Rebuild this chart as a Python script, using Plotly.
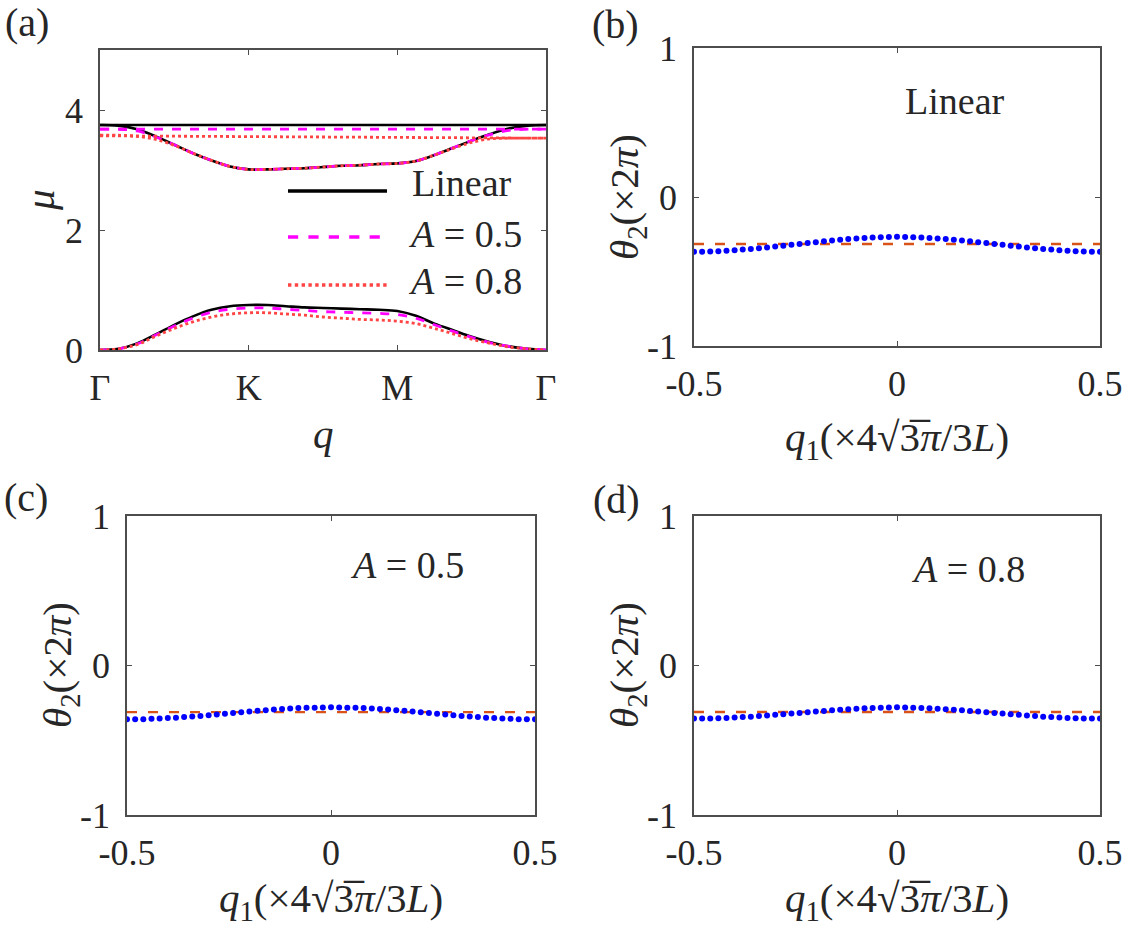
import plotly.graph_objects as go

W, H = 1125, 926

# ---------------- data ----------------
q_band = [0.0, 0.125, 0.25, 0.375, 0.5, 0.625, 0.75, 0.875, 1.0, 1.125, 1.25, 1.375, 1.5,
          1.625, 1.75, 1.875, 2.0, 2.125, 2.25, 2.375, 2.5, 2.625, 2.75, 2.875, 3.0]
q_ticks = [0, 1, 2, 3]
q_ticklabels = ["Γ", "K", "M", "Γ"]
q_flat = [0.0, 3.0]

lin_flat = [3.75, 3.75]
lin_upper = [3.75, 3.74, 3.68, 3.56, 3.42, 3.28, 3.16, 3.06, 3.01, 3.01, 3.02, 3.03, 3.05,
             3.07, 3.08, 3.10, 3.11, 3.15, 3.25, 3.37, 3.49, 3.60, 3.69, 3.74, 3.75]
lin_lower = [0.0, 0.02, 0.11, 0.26, 0.42, 0.56, 0.67, 0.73, 0.75, 0.75, 0.73, 0.71, 0.70,
             0.69, 0.68, 0.67, 0.65, 0.57, 0.44, 0.33, 0.22, 0.13, 0.06, 0.02, 0.0]

a05_flat = [3.68, 3.68]
a05_upper = [3.68, 3.68, 3.65, 3.55, 3.42, 3.28, 3.16, 3.06, 3.01, 3.01, 3.02, 3.03, 3.05,
             3.07, 3.08, 3.10, 3.11, 3.15, 3.25, 3.37, 3.49, 3.59, 3.66, 3.68, 3.68]
a05_lower = [0.0, 0.02, 0.10, 0.25, 0.40, 0.53, 0.63, 0.68, 0.70, 0.70, 0.68, 0.66, 0.64,
             0.63, 0.62, 0.61, 0.59, 0.53, 0.42, 0.31, 0.21, 0.12, 0.06, 0.02, 0.0]

a08_flat = [3.57, 3.53]
a08_upper = [3.58, 3.58, 3.56, 3.51, 3.41, 3.28, 3.16, 3.06, 3.01, 3.01, 3.02, 3.03, 3.05,
             3.07, 3.08, 3.10, 3.11, 3.15, 3.25, 3.36, 3.46, 3.52, 3.53, 3.53, 3.53]
a08_lower = [0.0, 0.02, 0.09, 0.23, 0.36, 0.47, 0.55, 0.60, 0.62, 0.62, 0.60, 0.58, 0.55,
             0.53, 0.51, 0.50, 0.48, 0.44, 0.36, 0.27, 0.18, 0.11, 0.05, 0.02, 0.0]

q1 = [-0.50, -0.48, -0.46, -0.44, -0.42, -0.40, -0.38, -0.36, -0.34, -0.32, -0.30, -0.28, -0.26,
      -0.24, -0.22, -0.20, -0.18, -0.16, -0.14, -0.12, -0.10, -0.08, -0.06, -0.04, -0.02, 0.00,
      0.02, 0.04, 0.06, 0.08, 0.10, 0.12, 0.14, 0.16, 0.18, 0.20, 0.22, 0.24, 0.26, 0.28, 0.30,
      0.32, 0.34, 0.36, 0.38, 0.40, 0.42, 0.44, 0.46, 0.48, 0.50]

theta_lin = [-0.367, -0.367, -0.366, -0.364, -0.361, -0.357, -0.353, -0.349, -0.344, -0.339,
             -0.333, -0.327, -0.321, -0.315, -0.309, -0.303, -0.297, -0.292, -0.287, -0.282,
             -0.278, -0.275, -0.272, -0.270, -0.268, -0.267, -0.268, -0.270, -0.272, -0.275,
             -0.278, -0.282, -0.287, -0.292, -0.297, -0.303, -0.309, -0.315, -0.321, -0.327,
             -0.333, -0.339, -0.344, -0.349, -0.353, -0.357, -0.361, -0.364, -0.366, -0.367, -0.367]
theta_a05 = [-0.360, -0.360, -0.359, -0.357, -0.355, -0.352, -0.349, -0.345, -0.341, -0.337,
             -0.332, -0.327, -0.322, -0.318, -0.313, -0.308, -0.303, -0.299, -0.295, -0.291,
             -0.288, -0.285, -0.283, -0.282, -0.281, -0.280, -0.281, -0.282, -0.283, -0.285,
             -0.288, -0.291, -0.295, -0.299, -0.303, -0.308, -0.313, -0.318, -0.322, -0.327,
             -0.332, -0.337, -0.341, -0.345, -0.349, -0.352, -0.355, -0.357, -0.359, -0.360, -0.360]
theta_a08 = [-0.355, -0.355, -0.354, -0.353, -0.351, -0.348, -0.345, -0.342, -0.338, -0.334,
             -0.330, -0.326, -0.321, -0.317, -0.313, -0.308, -0.304, -0.300, -0.296, -0.292,
             -0.289, -0.286, -0.284, -0.282, -0.281, -0.280, -0.281, -0.282, -0.284, -0.286,
             -0.289, -0.292, -0.296, -0.300, -0.304, -0.308, -0.313, -0.317, -0.321, -0.326,
             -0.330, -0.334, -0.338, -0.342, -0.345, -0.348, -0.351, -0.353, -0.354, -0.355, -0.355]
q1_ref = [-0.5, 0.5]
ref_lin = [-0.315, -0.315]
ref_a05 = [-0.312, -0.312]
ref_a08 = [-0.311, -0.311]

# ---------------- styling ----------------
FONT = "Liberation Serif"
TXT = "#262626"
AX = "#4d4d4d"
FS_TICK = 36
FS_TXT = 38
FS_TITLE = 41
BLACK, MAGENTA, RED = "#000000", "#FF00FF", "#FF4444"
BLUE, ORANGE = "#0000FF", "#D95319"


def px(x):
    return x / W


def py(y):
    return 1 - y / H


fig = go.Figure()

# panel (a)
band_sets = [
    (lin_flat, lin_upper, lin_lower, BLACK, "solid", 2.6),
    (a05_flat, a05_upper, a05_lower, MAGENTA, "dash", 2.8),
    (a08_flat, a08_upper, a08_lower, RED, "dot", 2.8),
]
for flat, upper, lower, col, dash, w in band_sets:
    fig.add_trace(go.Scatter(x=q_flat, y=flat, mode="lines", xaxis="x", yaxis="y",
                             line=dict(color=col, dash=dash, width=w), showlegend=False))
    fig.add_trace(go.Scatter(x=q_band, y=upper, mode="lines", xaxis="x", yaxis="y",
                             line=dict(color=col, dash=dash, width=w, shape="spline"),
                             showlegend=False))
    fig.add_trace(go.Scatter(x=q_band, y=lower, mode="lines", xaxis="x", yaxis="y",
                             line=dict(color=col, dash=dash, width=w, shape="spline"),
                             showlegend=False))

# panels (b), (c), (d)
for theta, ref, xa, ya in [(theta_lin, ref_lin, "x2", "y2"),
                           (theta_a05, ref_a05, "x3", "y3"),
                           (theta_a08, ref_a08, "x4", "y4")]:
    fig.add_trace(go.Scatter(x=q1_ref, y=ref, mode="lines", xaxis=xa, yaxis=ya,
                             line=dict(color=ORANGE, width=2.4, dash="10px,11px"),
                             showlegend=False))
    fig.add_trace(go.Scatter(x=q1, y=theta, mode="markers", xaxis=xa, yaxis=ya,
                             marker=dict(color=BLUE, size=6, line=dict(width=0)),
                             showlegend=False))

common = dict(showline=True, linecolor=AX, linewidth=1.8, mirror="ticks", ticks="inside",
              ticklen=5, tickcolor=AX, tickwidth=1.4, showgrid=False, zeroline=False,
              automargin=False, tickfont=dict(family=FONT, size=FS_TICK, color=TXT))

dom = {
    "a": ([px(100), px(546)], [py(350), py(50)]),
    "b": ([px(694), px(1100)], [py(346), py(48)]),
    "c": ([px(127), px(535)], [py(815), py(516)]),
    "d": ([px(694), px(1100)], [py(815), py(516)]),
}

fig.update_layout(
    width=W, height=H, margin=dict(l=0, r=0, t=0, b=0, autoexpand=False),
    paper_bgcolor="white", plot_bgcolor="white",
    xaxis=dict(domain=dom["a"][0], anchor="y", range=[0, 3], tickvals=q_ticks,
               ticktext=q_ticklabels, ticklabelstandoff=5, **common),
    yaxis=dict(domain=dom["a"][1], anchor="x", range=[0, 5], tickvals=[0, 2, 4],
               ticklabelstandoff=8, **common),
)
for i, key in [(2, "b"), (3, "c"), (4, "d")]:
    fig.update_layout({
        f"xaxis{i}": dict(domain=dom[key][0], anchor=f"y{i}", range=[-0.5, 0.5],
                          tickvals=[-0.5, 0, 0.5], ticktext=["-0.5", "0", "0.5"],
                          ticklabelstandoff=5, **common),
        f"yaxis{i}": dict(domain=dom[key][1], anchor=f"x{i}", range=[-1, 1],
                          tickvals=[-1, 0, 1], ticktext=["-1", "0", "1"],
                          ticklabelstandoff=8, **common),
    })

ann = []


def text(x, y, s, size=FS_TXT, angle=0, xanchor="center"):
    ann.append(dict(x=px(x), y=py(y), xref="paper", yref="paper", text=s, showarrow=False,
                    textangle=angle, xanchor=xanchor, yanchor="middle",
                    font=dict(family=FONT, size=size, color=TXT)))


# panel labels
text(27, 22, "(a)", size=40)
text(615, 24, "(b)", size=40)
text(26, 497, "(c)", size=40)
text(616, 499, "(d)", size=40)

# axis titles
text(40, 200, "<i>μ</i>", size=FS_TITLE, angle=-90)
text(323, 434, "<i>q</i>", size=FS_TITLE)
ytitle = "<i>θ</i><sub>2</sub>(×2<i>π</i>)"
xtitle = "<i>q</i><sub>1</sub>(×4√3\u0305<i>π</i>/3<i>L</i>)"
text(627, 197, ytitle, size=FS_TITLE, angle=-90)
text(60, 665, ytitle, size=FS_TITLE, angle=-90)
text(627, 665, ytitle, size=FS_TITLE, angle=-90)
text(897, 440, xtitle, size=FS_TITLE)
text(331, 901, xtitle, size=FS_TITLE)
text(897, 901, xtitle, size=FS_TITLE)

# in-panel labels
text(955, 101, "Linear")
text(407, 565, "<i>A</i> = 0.5")
text(968, 569, "<i>A</i> = 0.8")

# legend of panel (a)
shapes = []
for yy, col, dash in [(191, BLACK, "solid"), (237, MAGENTA, "dash"), (285, RED, "dot")]:
    shapes.append(dict(type="line", xref="paper", yref="paper", x0=px(288), x1=px(387),
                       y0=py(yy), y1=py(yy), line=dict(color=col, width=3.4, dash=dash)))
text(410, 183, "Linear", xanchor="left")
text(406, 234, "<i>A</i> = 0.5", xanchor="left")
text(406, 281, "<i>A</i> = 0.8", xanchor="left")

fig.update_layout(annotations=ann, shapes=shapes)
fig.write_html("out.html")
